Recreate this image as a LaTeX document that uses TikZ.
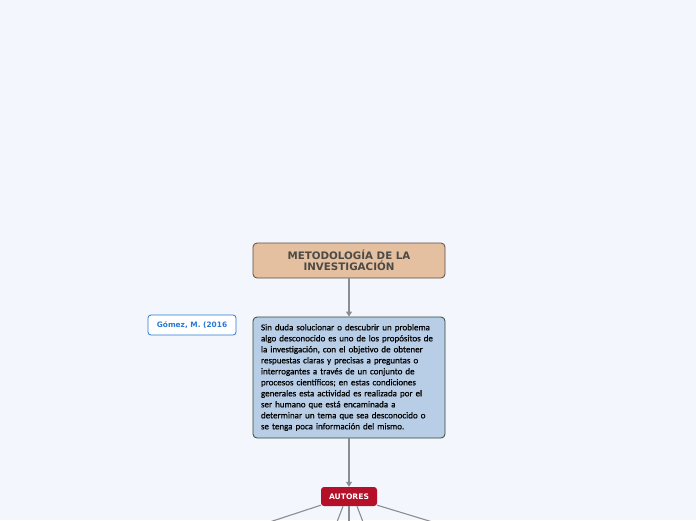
\documentclass[tikz,border=0pt]{standalone}
\usepackage{fontspec}
\setmainfont{DejaVu Sans}
\newfontfamily\bodyfont[FakeBold=0.4]{Carlito}
\usetikzlibrary{arrows.meta}
\definecolor{bgc}{HTML}{F3F6FD}
\definecolor{tanfill}{HTML}{E4C0A0}
\definecolor{tandraw}{HTML}{5A4C3E}
\definecolor{tantext}{HTML}{4D4A45}
\definecolor{bluefill}{HTML}{B8CDE6}
\definecolor{bluedraw}{HTML}{2E4A38}
\definecolor{refblue}{HTML}{2A78D6}
\definecolor{autred}{HTML}{B5102A}
\definecolor{linec}{HTML}{8A8D94}
\tikzset{
  titlebox/.style={draw=tandraw, fill=tanfill, rounded corners=4pt, line width=0.8pt,
    minimum width=192pt, minimum height=35pt, align=center, text=tantext,
    font=\fontsize{10.3}{11.5}\selectfont\bfseries, inner sep=0pt},
  descbox/.style={draw=bluedraw, fill=bluefill, rounded corners=4pt, line width=0.8pt,
    minimum width=192pt, minimum height=121pt, align=left, text=black,
    font=\bodyfont\fontsize{9}{11}\selectfont, inner sep=0pt, text width=176pt},
  refbox/.style={draw=refblue, fill=white, rounded corners=3pt, line width=0.8pt,
    minimum width=88pt, minimum height=20pt, text=refblue,
    font=\fontsize{7.4}{8}\selectfont\bfseries, inner sep=0pt},
  autbox/.style={fill=autred, rounded corners=3pt, minimum width=56pt, minimum height=19pt,
    text=white, font=\fontsize{7.6}{8}\selectfont\bfseries, inner sep=0pt},
  arr/.style={draw=linec, line width=1.1pt, -{Triangle[length=5pt,width=6pt]}},
  lnk/.style={draw=linec, line width=1.1pt},
}
\begin{document}
\begin{tikzpicture}[x=1pt,y=-1pt]
\clip (0,0) rectangle (696,520);
\fill[bgc] (0,0) rectangle (696,520);
\node[titlebox] (title) at (349,260.5) {METODOLOGÍA DE LA\\INVESTIGACIÓN};
\node[descbox] (desc) at (349,377.5) {Sin duda solucionar o descubrir un problema\\algo desconocido es uno de los propósitos de\\la investigación, con el objetivo de obtener\\respuestas claras y precisas a preguntas o\\interrogantes a través de un conjunto de\\procesos científicos; en estas condiciones\\generales esta actividad es realizada por el\\ser humano que está encaminada a\\determinar un tema que sea desconocido o\\se tenga poca información del mismo.};
\node[refbox] (ref) at (192,325) {Gómez, M. (2016};
\node[autbox] (aut) at (349,496.5) {AUTORES};
\draw[arr] (title.south) -- (desc.north);
\draw[arr] (desc.south) -- (aut.north);
\coordinate (c1) at (230,535);
\coordinate (c2) at (332,535);
\coordinate (c3) at (349,535);
\coordinate (c4) at (368,535);
\coordinate (c5) at (482,537);
\draw[lnk] (aut.south west) ++(0,-1) -- (c1);
\draw[lnk] ([xshift=-6pt]aut.south) -- (c2);
\draw[lnk] (aut.south) -- (c3);
\draw[lnk] ([xshift=8pt]aut.south) -- (c4);
\draw[lnk] (aut.south east) ++(0,-1) -- (c5);
\end{tikzpicture}
\end{document}
